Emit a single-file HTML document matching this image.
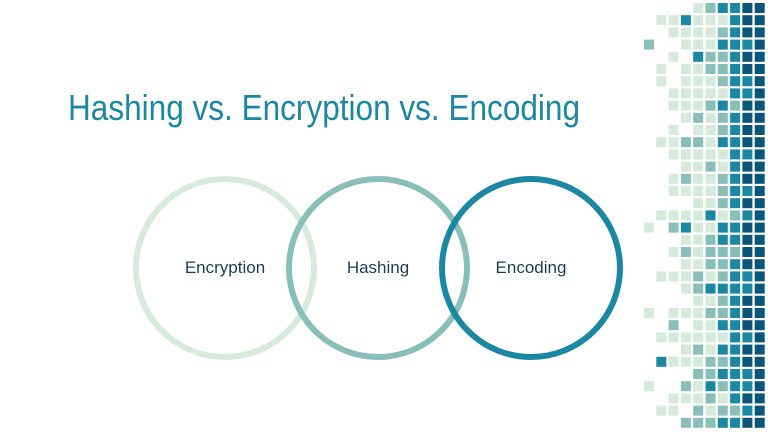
<!DOCTYPE html>
<html><head><meta charset="utf-8"><style>
html,body{margin:0;padding:0;background:#fff;}
svg{display:block;}
text{font-family:"Liberation Sans",sans-serif;}
</style></head><body>
<svg width="768" height="432" viewBox="0 0 768 432" xmlns="http://www.w3.org/2000/svg">
<rect width="768" height="432" fill="#fff"/>
<text x="68" y="120" font-size="36" fill="#1a87a3" textLength="512" lengthAdjust="spacingAndGlyphs">Hashing vs. Encryption vs. Encoding</text>
<circle cx="225" cy="268" r="89" fill="none" stroke="#d5eadb" stroke-width="6"/>
<circle cx="378" cy="268" r="89" fill="none" stroke="#88bfb8" stroke-width="6"/>
<circle cx="531" cy="268" r="89" fill="none" stroke="#1a87a3" stroke-width="6"/>
<g font-size="17" fill="#1d3c50" text-anchor="middle">
<text x="225" y="273">Encryption</text>
<text x="378" y="273">Hashing</text>
<text x="531" y="273">Encoding</text>
</g>
<g id="grid"></g>
</svg>
<script>
var rows=["0000123344","0113111344","0011112344","2001113334","0010322344","0101122344","0101112334","0011111334","0011123244","0001212344","0010112344","0112213344","0011111334","0001121344","0012112344","0011112334","0000112344","0111131234","1023113344","0001123344","0012122244","0001122344","0111212334","0001233334","0000112344","1011122344","0020113344","0111111334","0001213344","0311122344","0000223334","1002132334","0011121344","0110212234","0002223344"];
var cols=["","#d5eadb","#88bfb8","#1a87a3","#0b5578"];
var g=document.getElementById("grid"),s="";
for(var r=0;r<rows.length;r++)for(var c=0;c<10;c++){var v=+rows[r][c];if(v){s+='<rect x="'+(644+12.3*c).toFixed(1)+'" y="'+(3+12.2*r).toFixed(1)+'" width="10" height="10" fill="'+cols[v]+'"/>';}}
g.innerHTML=s;
</script>
</body></html>
